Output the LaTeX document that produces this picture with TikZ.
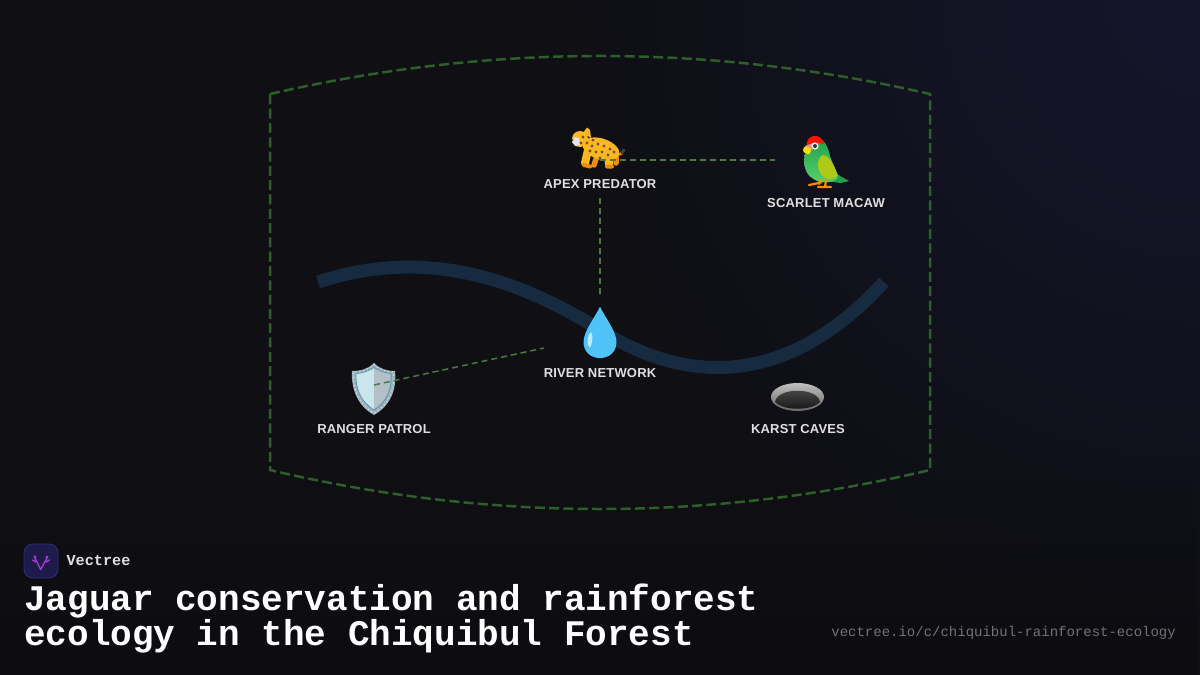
\documentclass[tikz,border=0pt]{standalone}
\usepackage{fontspec}
\setmainfont{Liberation Sans}
\setmonofont{Liberation Mono}
\newfontfamily\tagfont[LetterSpace=1.4]{Liberation Sans}
\usetikzlibrary{arrows.meta,positioning,fadings}
\definecolor{basebg}{HTML}{0F0F14}
\definecolor{topglow}{HTML}{15162D}
\definecolor{lowbg}{HTML}{0C0C11}
\definecolor{zoneline}{HTML}{2D5F2A}
\definecolor{linkline}{HTML}{4A7C3F}
\definecolor{riverline}{HTML}{162A40}
\definecolor{tagtext}{HTML}{E0E0E0}
\definecolor{fur}{HTML}{FBB81F}
\definecolor{furdark}{HTML}{F08A0C}
\definecolor{spot}{HTML}{7A4A3A}
\definecolor{green1}{HTML}{1FA04A}
\definecolor{green2}{HTML}{58CF6C}
\definecolor{lime}{HTML}{AFC916}
\definecolor{drop}{HTML}{4FC3F7}
\definecolor{shieldrim}{HTML}{9DB2BC}
\definecolor{shieldring}{HTML}{5E9FB0}
\definecolor{shieldleft}{HTML}{CBE5EC}
\definecolor{shieldright}{HTML}{B3C0C7}
\definecolor{badgefill}{HTML}{1E1B4B}
\definecolor{badgeline}{HTML}{312E81}
\definecolor{badgemark}{HTML}{A63CD6}
\tikzfading[name=glowfade,inner color=transparent!0,outer color=transparent!100]
\tikzfading[name=lowfade,top color=transparent!100,bottom color=transparent!0]
\begin{document}
\begin{tikzpicture}[
  x=1pt,y=-1pt,
  tag/.style={text=tagtext,font=\tagfont\bfseries\fontsize{13}{15}\selectfont,inner sep=0pt},
  slot/.style={inner sep=0pt,minimum width=#1},
  zone/.style={draw=zoneline,line width=2.5pt,dash pattern=on 10pt off 4.3pt},
  link/.style={draw=linkline,line width=1.5pt,dash pattern=on 6pt off 4pt},
  river/.style={draw=riverline,line width=13pt}
]
\useasboundingbox (0,0) rectangle (1200,675);
\fill[basebg] (0,0) rectangle (1200,675);
\begin{scope}
\clip (0,0) rectangle (1200,675);
\fill[topglow,path fading=glowfade] (1200,0) circle (640);
\fill[lowbg,path fading=lowfade] (0,480) rectangle (1200,675);
\end{scope}
\draw[zone] (270,94) .. controls (490,43.3) and (710,43.3) .. (930,94) -- (930,470)
  .. controls (710,522) and (490,522) .. (270,470) -- cycle;
\draw[river] (318,282) .. controls (410,252) and (500,267) .. (600,330)
  .. controls (690,387) and (790,385) .. (884,282);

% jaguar
\draw[furdark,line width=5.5pt,line cap=round] (597,156) -- (594,165) (616,152) -- (616,163);
\draw[furdark,line width=2.5pt,line cap=round] (615,150) .. controls (619,155) and (620,155) .. (622,153);
\draw[black!75,line width=3pt,line cap=round] (622,153) -- (624,150);
\fill[fur,rotate around={-18:(601,149)}] (601,149) ellipse (19 and 10.5);
\draw[fur,line width=8pt,line cap=round] (588,150) -- (585,163) (608,153) -- (609,164);
\draw[furdark,line width=4pt,line cap=round] (584,165) -- (590,166.5) (607,166.5) -- (612,166.5);
\fill[fur] (580,139) circle (8);
\fill[fur] (583,133) -- (587,127.5) -- (590,130) -- (591,138) -- cycle;
\fill[white!90!black] (574,137) -- (579,138) -- (580,145) -- (575,146) -- (572,142) -- cycle;
\fill[black!70] (572.5,140) circle (1.2);
\foreach \a/\b in {583/137,587/143,581/143,592/146,598/144,604/146,610/149,596/152,602/152,608/155,614/152,590/151,593/140,600/158}
  \fill[spot] (\a,\b) circle (1.6);

% macaw
\fill[green1] (832,170) -- (840,176) -- (849,181) -- (841,183) -- (826,181) -- cycle;
\shade[top color=green1,bottom color=green2] (813,137) .. controls (823,136) and (828,146) .. (830,156)
  .. controls (833,165) and (836,170) .. (838,176) .. controls (838,181) and (830,183) .. (820,182)
  .. controls (810,179) and (805,172) .. (804.5,165) .. controls (804,155) and (805,143) .. (813,137) -- cycle;
\fill[red!85!orange] (806.5,145) .. controls (807,134) and (821,132) .. (824,144) .. controls (818,142) and (812,143) .. (806.5,145) -- cycle;
\fill[lime] (823,155) .. controls (830,156) and (835,167) .. (837.5,175) .. controls (833,181) and (823,180) .. (819.5,172) .. controls (816.5,165) and (818,157) .. (823,155) -- cycle;
\fill[pink!70!purple] (805,146) -- (812,143.5) -- (812,150) -- (807,150) -- cycle;
\fill[yellow!80!orange] (803,150) .. controls (803,146) and (808,145) .. (811,149) .. controls (811,154) and (808,156) .. (806,153) .. controls (804,153) and (803,152) .. (803,150) -- cycle;
\fill[white!85!brown] (815,146) circle (3.6);
\fill[black!80] (815,146) circle (2);
\draw[orange!90!yellow,line width=2.2pt,line cap=round] (809,185) -- (821,182.5) (818,187) -- (831,187) (820,180) -- (819,184) (826,180) -- (825,187);

% shield
\fill[shieldrim] (374,363) .. controls (380,369) and (387,371) .. (395,371) .. controls (397,390) and (390,406) .. (374,415) .. controls (358,406) and (351,390) .. (352,371) .. controls (361,371) and (368,369) .. (374,363) -- cycle;
\fill[shieldleft] (374,367.5) .. controls (369,371) and (362,373) .. (356,373.5) .. controls (355,389) and (361,402) .. (374,410) -- cycle;
\fill[shieldright] (374,367.5) .. controls (379,371) and (386,373) .. (391,373.5) .. controls (392,389) and (387,402) .. (374,410) -- cycle;
\draw[shieldring,line width=1pt] (374,367.5) .. controls (379,371) and (386,373) .. (391,373.5) .. controls (392,389) and (387,402) .. (374,410) .. controls (361,402) and (355,389) .. (356,373.5) .. controls (362,373) and (369,371) .. (374,367.5) -- cycle;
\draw[white!85!gray,line width=.9pt,dash pattern=on 1pt off 3pt] (374,364.5) .. controls (380,370) and (387,372) .. (393.5,372) .. controls (395,390) and (389,405) .. (374,413) .. controls (359,405) and (353,390) .. (353.5,372) .. controls (361,372) and (368,370) .. (374,364.5);

% water drop
\fill[drop] (600,306.5) .. controls (604,316) and (616.5,331) .. (616.5,342) .. controls (616.5,352) and (609,358) .. (600,358) .. controls (591,358) and (583.5,352) .. (583.5,342) .. controls (583.5,331) and (596,316) .. (600,306.5) -- cycle;
\fill[cyan!25!white] (591,332) .. controls (594,336) and (592,344) .. (590,348) .. controls (586,345) and (587,335) .. (591,332) -- cycle;

% cave
\shade[top color=black!25,bottom color=black!60] (797.5,397) ellipse (26.5 and 14);
\shade[top color=black!70,bottom color=black!92] (775,402) .. controls (777,387) and (818,387) .. (820,402) .. controls (812,411) and (783,411) .. (775,402) -- cycle;

% logo
\node[draw=badgeline,fill=badgefill,rounded corners=9pt,minimum size=34pt,inner sep=0pt,line width=.8pt] (badge) at (41,561) {};
\draw[badgemark,line width=1.3pt,line cap=round,line join=round] (35,558) -- (40.7,569.5) -- (47,558) (32.5,560) -- (36,562) (49.5,560) -- (46,562);
\fill[badgemark] (35,557) circle (1.7) (47,557) circle (1.7);
\node[anchor=west,inner sep=0pt,text=tagtext,font=\ttfamily\bfseries\fontsize{15.2}{18}\selectfont,right=8pt of badge] (brand) {Vectree};

% invisible slots for the connectors
\node[slot=76pt,minimum height=76pt] (apex) at (600,160) {};
\node[slot=102pt,minimum height=40pt] (macaw) at (826,160) {};
\node[slot=112pt,minimum height=100pt] (water) at (600,348) {};
\node[slot=40pt,minimum height=40pt] (ranger) at (374,385) {};
\draw[link] (apex.center) -- (macaw.west);
\draw[link] (apex.south) -- (water.north);
\draw[link] (ranger.center) -- (water.west);

\node[tag] (apextag) at (600,184) {APEX PREDATOR};
\node[tag] (macawtag) at (826,203) {SCARLET MACAW};
\node[tag] (watertag) at (600,373) {RIVER NETWORK};
\node[tag] (rangertag) at (374,429) {RANGER PATROL};
\node[tag] (cavetag) at (798,429) {KARST CAVES};

\node[anchor=north west,align=left,inner sep=0pt,text=white,font=\ttfamily\bfseries\fontsize{36}{32}\selectfont] (headline) at (24,584) {Jaguar conservation and rainforest\\ecology in the Chiquibul Forest};
\node[anchor=east,inner sep=0pt,text=black!55,font=\ttfamily\fontsize{14}{16}\selectfont] (weblink) at (1176,633) {vectree.io/c/chiquibul-rainforest-ecology};
\end{tikzpicture}
\end{document}
